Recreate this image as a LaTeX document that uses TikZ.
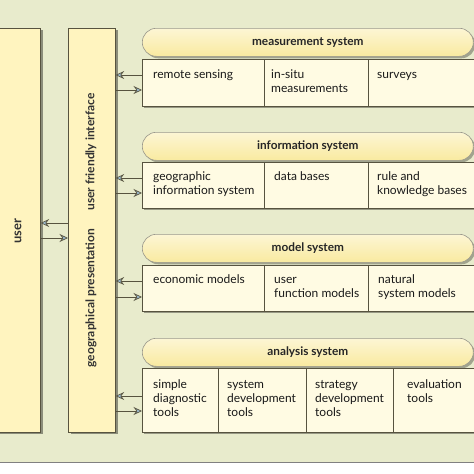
\documentclass[tikz,border=0pt]{standalone}
\usepackage{fontspec}
\setmainfont{Lato}
\usetikzlibrary{arrows.meta,shadows}
\definecolor{bggreen}{HTML}{E8EBCC}
\definecolor{postyellow}{HTML}{FFF4BF}
\definecolor{pillyellow}{HTML}{F9EAA0}
\definecolor{celcream}{HTML}{FFFBE3}
\definecolor{edgegray}{HTML}{57533F}
\definecolor{tipblue}{HTML}{9DBCD0}
\tikzset{
	post/.style={draw=edgegray, fill=postyellow, line width=0.7pt, anchor=north west, inner sep=0pt,
		drop shadow={shadow xshift=2.5pt, shadow yshift=-2pt, fill=black, opacity=0.4}},
	pill/.style={draw=edgegray!60, top color=pillyellow!45!white, bottom color=pillyellow, line width=0.6pt,
		rounded corners=14pt, anchor=north west, inner sep=0pt, minimum width=331pt, minimum height=28pt,
		drop shadow={shadow xshift=2pt, shadow yshift=-2pt, fill=black, opacity=0.3}},
	cell/.style={draw=edgegray, fill=celcream, line width=0.7pt, anchor=north west, inner sep=0pt,
		drop shadow={shadow xshift=2pt, shadow yshift=-2pt, fill=black, opacity=0.35}},
	celltext/.style={anchor=north west, align=left, inner sep=0pt, text=black!90, font=\fontsize{12}{14}\selectfont},
	title/.style={font=\bfseries\fontsize{11.8}{13}\selectfont, text=black!85},
	sidetext/.style={rotate=90, font=\bfseries\fontsize{12}{14}\selectfont, text=black!80},
	flow/.style={draw=edgegray, line width=0.7pt, -{Stealth[fill=tipblue, length=8.5pt, width=8pt, inset=3pt]}}
}
\begin{document}
\begin{tikzpicture}[x=1pt,y=-1pt]
	\useasboundingbox (0,0) rectangle (474,474);
	\clip (0,0) rectangle (474,474);
	\fill[bggreen] (-5,-5) rectangle (480,462);
	\draw[gray, line width=0.8pt] (-5,462) -- (480,462);
	% user and interface
	\node[post, minimum width=50pt, minimum height=404pt] (user) at (-10,28) {};
	\node[sidetext, font=\bfseries\fontsize{13}{15}\selectfont] (usertext) at (18,231) {user};
	\node[post, minimum width=47pt, minimum height=404pt] (ui) at (68,28) {};
	\node[sidetext] (uitext) at (91,152) {user friendly interface};
	\node[sidetext] (geotext) at (91,298) {geographical presentation};
	\draw[flow] (ui.west |- 0,223) -- (user.east |- 0,223);
	\draw[flow] (user.east |- 0,238) -- (ui.west |- 0,238);
	% measurement system
	\node[pill] (ms) at (142,28) {};
	\node[title] (mstitle) at (ms.center) {measurement system};
	\node[cell, minimum width=122pt, minimum height=47pt] (ms1) at (142,59) {};
	\node[cell, minimum width=104pt, minimum height=47pt] (ms2) at (264,59) {};
	\node[cell, minimum width=114pt, minimum height=47pt] (ms3) at (368,59) {};
	\node[celltext] at ([shift={(11pt,-9.5pt)}]ms1.north west) {\strut remote sensing};
	\node[celltext] at ([shift={(7pt,-9.5pt)}]ms2.north west) {\strut in-situ\\measurements};
	\node[celltext] at ([shift={(9pt,-9.5pt)}]ms3.north west) {\strut surveys};
	\draw[flow] (ms1.west |- 0,75) -- (ui.east |- 0,75);
	\draw[flow] (ui.east |- 0,90) -- (ms1.west |- 0,90);
	% information system
	\node[pill] (is) at (142,132) {};
	\node[title] (istitle) at (is.center) {information system};
	\node[cell, minimum width=122pt, minimum height=46pt] (is1) at (142,162) {};
	\node[cell, minimum width=104pt, minimum height=46pt] (is2) at (264,162) {};
	\node[cell, minimum width=114pt, minimum height=46pt] (is3) at (368,162) {};
	\node[celltext] at ([shift={(11pt,-8.5pt)}]is1.north west) {\strut geographic\\information system};
	\node[celltext] at ([shift={(10pt,-8.5pt)}]is2.north west) {\strut data bases};
	\node[celltext] at ([shift={(9pt,-8.5pt)}]is3.north west) {\strut rule and\\knowledge bases};
	\draw[flow] (is1.west |- 0,178) -- (ui.east |- 0,178);
	\draw[flow] (ui.east |- 0,193) -- (is1.west |- 0,193);
	% model system
	\node[pill] (mo) at (142,234) {};
	\node[title] (motitle) at (mo.center) {model system};
	\node[cell, minimum width=122pt, minimum height=46pt] (mo1) at (142,265) {};
	\node[cell, minimum width=104pt, minimum height=46pt] (mo2) at (264,265) {};
	\node[cell, minimum width=114pt, minimum height=46pt] (mo3) at (368,265) {};
	\node[celltext] at ([shift={(11pt,-8.5pt)}]mo1.north west) {\strut economic models};
	\node[celltext] at ([shift={(10pt,-8.5pt)}]mo2.north west) {\strut user\\function models};
	\node[celltext] at ([shift={(10pt,-8.5pt)}]mo3.north west) {\strut natural\\system models};
	\draw[flow] (mo1.west |- 0,281) -- (ui.east |- 0,281);
	\draw[flow] (ui.east |- 0,297) -- (mo1.west |- 0,297);
	% analysis system
	\node[pill] (an) at (142,338) {};
	\node[title] (antitle) at (an.center) {analysis system};
	\node[cell, minimum width=76pt, minimum height=64pt] (an1) at (142,368) {};
	\node[cell, minimum width=88pt, minimum height=64pt] (an2) at (218,368) {};
	\node[cell, minimum width=87pt, minimum height=64pt] (an3) at (306,368) {};
	\node[cell, minimum width=89pt, minimum height=64pt] (an4) at (393,368) {};
	\node[celltext] at ([shift={(11pt,-10.5pt)}]an1.north west) {\strut simple\\diagnostic\\tools};
	\node[celltext] at ([shift={(9pt,-10.5pt)}]an2.north west) {\strut system\\development\\tools};
	\node[celltext] at ([shift={(9pt,-10.5pt)}]an3.north west) {\strut strategy\\development\\tools};
	\node[celltext] at ([shift={(14pt,-10.5pt)}]an4.north west) {\strut evaluation\\tools};
	\draw[flow] (an1.west |- 0,396) -- (ui.east |- 0,396);
	\draw[flow] (ui.east |- 0,411) -- (an1.west |- 0,411);
\end{tikzpicture}
\end{document}
